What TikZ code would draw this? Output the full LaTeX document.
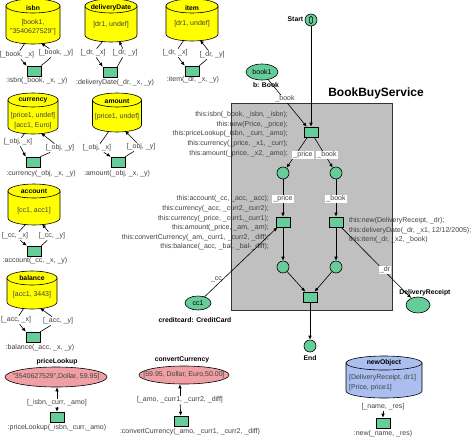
\documentclass[tikz,border=0pt]{standalone}
\usepackage{fontspec}
\setmainfont{Liberation Sans}
\usetikzlibrary{arrows.meta,shapes.geometric,calc}
\definecolor{petri}{RGB}{102,204,153}
\definecolor{dbyellow}{RGB}{255,255,0}
\definecolor{dbblue}{RGB}{170,190,240}
\definecolor{pinkobj}{RGB}{240,160,165}
\definecolor{boxgray}{RGB}{192,192,192}
\newcommand{\dbcyl}[6]{%
 \draw[fill=#6] ({#2-#5/2},{#3+7}) -- ({#2-#5/2},{#4-7}) arc[start angle=180,end angle=0,x radius={#5/2},y radius=7] -- ({#2+#5/2},{#3+7}) -- cycle;
 \draw[fill=#6] (#2,{#3+7}) ellipse[x radius={#5/2},y radius=7];
 \coordinate (#1-l) at ({#2-8},{#4-1});
 \coordinate (#1-r) at ({#2+8},{#4-1});
 \coordinate (#1-b) at (#2,{#4-1});
}
\begin{document}
\begin{tikzpicture}[x=1pt,y=-1pt, line width=0.6pt,
 txt/.style={font=\fontsize{7}{8}\selectfont, text=black!75, inner sep=0.8pt},
 ttl/.style={font=\bfseries\fontsize{6.8}{8}\selectfont, text=black, inner sep=0.5pt},
 trans/.style={draw, fill=petri, minimum width=14pt, minimum height=10pt, inner sep=0},
 place/.style={draw, circle, fill=petri, minimum size=12pt, inner sep=0},
 obj/.style={draw, ellipse, inner sep=0},
 flow/.style={-{Latex[length=4pt,width=3.5pt]}},
 wlbl/.style={txt, fill=white, inner sep=1pt},
 ann/.style={txt, font=\fontsize{7}{9.8}\selectfont}]
\useasboundingbox (0,0) rectangle (474,437);

% ---------- service box ----------
\node[draw=black!80, fill=boxgray, minimum width=161pt, minimum height=207pt, anchor=north west, inner sep=0] (svc) at (231,103) {};
\node[font=\bfseries\fontsize{12}{14}\selectfont] (svctitle) at (376,93) {BookBuyService};

% ---------- databases ----------
\dbcyl{isbn}{33}{-1}{44}{54}{dbyellow}
\node[ttl] (isbnt) at (33,8) {isbn};
\node[txt, align=center, font=\fontsize{7}{9}\selectfont] (isbnc) at (33,27) {[book1,\\"3540627529"]};
\node[trans] (isbnT) at (34,71) {};
\node[txt] (isbnx) at (17,55) {[\_book, \_x]};
\node[txt] (isbny) at (56,53) {[\_book, \_y]};
\node[txt] (isbnn) at (37,81) {:isbn(\_book, \_x, \_y)};
\draw (isbn-l) -- (isbnx); \draw[flow] (isbnx) -- (isbnT.north west);
\draw (isbnT.north east) -- (isbny); \draw[flow] (isbny) -- (isbn-r);

\dbcyl{dd}{111}{-1}{42}{52}{dbyellow}
\node[ttl] (ddt) at (111,8) {deliveryDate};
\node[txt] (ddc) at (111,25) {[dr1, undef]};
\node[trans] (ddT) at (110,72) {};
\node[txt] (ddx) at (93,53) {[\_dr, \_x]};
\node[txt] (ddy) at (125,53) {[\_dr, \_y]};
\node[txt] (ddn) at (115,83) {:deliveryDate(\_dr, \_x, \_y)};
\draw (dd-l) -- (ddx); \draw[flow] (ddx) -- (ddT.north west);
\draw (ddT.north east) -- (ddy); \draw[flow] (ddy) -- (dd-r);

\dbcyl{item}{192}{-1}{41}{52}{dbyellow}
\node[ttl] (itemt) at (192,8) {item};
\node[txt] (itemc) at (192,24) {[dr1, undef]};
\node[trans] (itemT) at (192,71) {};
\node[txt] (itemx) at (175,53) {[\_dr, \_x]};
\node[txt] (itemy) at (212,55) {[\_dr, \_y]};
\node[txt] (itemn) at (193,80) {:item(\_dr, \_x, \_y)};
\draw (item-l) -- (itemx); \draw[flow] (itemx) -- (itemT.north west);
\draw (itemT.north east) -- (itemy); \draw[flow] (itemy) -- (item-r);

\dbcyl{cur}{33}{93}{134}{50}{dbyellow}
\node[ttl] (curt) at (33,100) {currency};
\node[txt, align=center, font=\fontsize{7}{10}\selectfont] (curc) at (33,121) {[price1, undef]\\{}[acc1, Euro]};
\node[trans] (curT) at (33,162) {};
\node[txt] (curx) at (18,142) {[\_obj, \_x]};
\node[txt] (cury) at (60,148) {[\_obj, \_y]};
\node[txt] (curn) at (41,174) {:currency(\_obj, \_x, \_y)};
\draw (cur-l) -- (curx); \draw[flow] (curx) -- (curT.north west);
\draw (curT.north east) -- (cury); \draw[flow] (cury) -- (cur-r);

\dbcyl{amt}{117}{93}{132}{49}{dbyellow}
\node[ttl] (amtt) at (117,101) {amount};
\node[txt] (amtc) at (117,117) {[price1, undef]};
\node[trans] (amtT) at (118,162) {};
\node[txt] (amtx) at (97,148) {[\_obj, \_x]};
\node[txt] (amty) at (141,147) {[\_obj, \_y]};
\node[txt] (amtn) at (117,174) {:amount(\_obj, \_x, \_y)};
\draw (amt-l) -- (amtx); \draw[flow] (amtx) -- (amtT.north west);
\draw (amtT.north east) -- (amty); \draw[flow] (amty) -- (amt-r);

\dbcyl{acc}{34}{184}{225}{52}{dbyellow}
\node[ttl] (acct) at (34,191) {account};
\node[txt] (accc) at (34,211) {[cc1, acc1]};
\node[trans] (accT) at (34,251) {};
\node[txt] (accx) at (15,236) {[\_cc, \_x]};
\node[txt] (accy) at (52,236) {[\_cc, \_y]};
\node[txt] (accn) at (35,261) {:account(\_cc, \_x, \_y)};
\draw (acc-l) -- (accx); \draw[flow] (accx) -- (accT.north west);
\draw (accT.north east) -- (accy); \draw[flow] (accy) -- (acc-r);

\dbcyl{bal}{32}{271}{309}{50}{dbyellow}
\node[ttl] (balt) at (32,278) {balance};
\node[txt] (balc) at (32,295) {[acc1, 3443]};
\node[trans] (balT) at (33,337) {};
\node[txt] (balx) at (16,320) {[\_acc, \_x]};
\node[txt] (baly) at (58,321) {[\_acc, \_y]};
\node[txt] (baln) at (40,348) {:balance(\_acc, \_x, \_y)};
\draw (bal-l) -- (balx); \draw[flow] (balx) -- (balT.north west);
\draw (balT.north east) -- (baly); \draw[flow] (baly) -- (bal-r);

\dbcyl{nob}{384}{356}{398}{76}{dbblue}
\node[ttl] (nobt) at (384,363) {newObject};
\node[txt, align=left, anchor=west, font=\fontsize{7}{10}\selectfont] (nobc) at (348,383) {[DeliveryReceipt, dr1]\\{}[Price, price1]};
\node[trans] (nobT) at (383,423) {};
\node[txt] (nobl) at (383,407) {[\_name, \_res]};
\node[txt] (nobn) at (383,434) {:new(\_name, \_res)};
\draw[flow] (nobl) -- (nobT);

% ---------- services (pink) ----------
\node[ttl] (plt) at (57,362) {priceLookup};
\node[obj, fill=pinkobj, minimum width=102pt, minimum height=20pt] (PL) at (56,377) {};
\node[txt] (plc) at (56,377) {"3540627529",Dollar, 59.95]};
\node[txt] (pll) at (57,403) {[\_isbn,\_curr, \_amo]};
\node[trans] (plT) at (57,417) {};
\node[txt] (pln) at (57,428) {:priceLookup(\_isbn,\_curr,\_amo)};
\draw[flow] (pll) -- (pll |- PL.south);
\draw[flow] (pll) -- (plT);

\node[ttl] (cct) at (182,360) {convertCurrency};
\node[obj, fill=pinkobj, minimum width=90pt, minimum height=18pt] (CC) at (184,375) {};
\node[txt] (ccc) at (184,375) {[59.95, Dollar, Euro,50.00]};
\node[txt] (ccl) at (180,400) {[\_amo, \_curr1, \_curr2, \_diff]};
\node[trans] (ccT) at (181,421) {};
\node[txt] (ccn) at (190,432) {:convertCurrency(\_amo, \_curr1, \_curr2, \_diff)};
\draw[flow] (ccl) -- (ccl |- CC.south);
\draw[flow] (ccl) -- (ccT);

% ---------- main net ----------
\node[place, minimum size=12pt] (start) at (311,20) {};
\draw[rounded corners=1.4pt] ($(start.center)+(-1.6,-3.6)$) rectangle ($(start.center)+(1.6,3.6)$);
\node[ttl, anchor=east] (startl) at (304,19) {Start};
\node[trans] (T1) at (311,132) {};
\node[obj, fill=petri, minimum width=32pt, minimum height=16pt] (book1) at (262,72) {\fontsize{7}{8}\selectfont book1};
\node[ttl] (book1l) at (266,85) {b: Book};
\node[place] (P1) at (283,173) {};
\node[place] (P2) at (336,173) {};
\node[trans] (T2) at (283,222) {};
\node[trans] (T3) at (336,222) {};
\node[place] (P3) at (283,267) {};
\node[place] (P4) at (336,267) {};
\node[trans] (T4) at (310,297) {};
\node[place] (end) at (310,346) {};
\node[ttl] (endl) at (310,358) {End};
\node[obj, fill=petri, minimum width=26pt, minimum height=14pt] (cc1) at (198,303) {\fontsize{7}{8}\selectfont cc1};
\node[ttl] (cc1l) at (195,320) {creditcard: CreditCard};
\node[obj, fill=petri, minimum width=24pt, minimum height=16pt] (DR) at (418,305) {};
\node[ttl] (DRl) at (425,293) {DeliveryReceipt};

\node[ann, align=right, anchor=east] (a1) at (289,134) {this:isbn(\_book, \_isbn, \_isbn);\\this:new(Price, \_price);\\this:priceLookup(\_isbn, \_curr, \_amo);\\this:currency(\_price, \_x1, \_curr);\\this:amount(\_price, \_x2, \_amo);};
\node[ann, align=right, anchor=east, font=\fontsize{7}{9.6}\selectfont] (a2) at (270,223) {this:account(\_cc, \_acc, \_acc);\\this:currency(\_acc, \_curr2,\_curr2);\\this:currency(\_price, \_curr1,\_curr1);\\this:amount(\_price, \_am, \_am);\\this:convertCurrency(\_am,\_curr1, \_curr2, \_diff);\\this:balance(\_acc, \_bal, \_bal-\_diff);};
\node[ann, align=left, anchor=west, font=\fontsize{7}{9.5}\selectfont] (a3) at (348,230.5) {this:new(DeliveryReceipt, \_dr);\\this:deliveryDate(\_dr, \_x1, 12/12/2005);\\this:item(\_dr, \_x2, \_book)};

\draw[flow] (start) -- (T1);
\draw[flow] (book1) -- (T1);
\draw[flow] (T1) -- (P1);
\draw[flow] (T1) -- (P2);
\draw[flow] (P1) -- (T2);
\draw[flow] (P2) -- (T3);
\draw[flow] (T2) -- (P3);
\draw[flow] (T3) -- (P4);
\draw[flow] (P3) -- (T4);
\draw[flow] (P4) -- (T4);
\draw[flow] (T4) -- (end);
\draw[flow] (cc1) -- (T2);
\draw[flow] (T3) -- (DR);

\node[wlbl] (lb1) at (285,99) {\_book};
\node[wlbl] (lb2) at (303,155) {\_price};
\node[wlbl] (lb3) at (327,155) {\_book};
\node[wlbl] (lb4) at (283,199) {\_price};
\node[wlbl] (lb5) at (336,199) {\_book};
\node[txt, anchor=east] (lb6) at (223,279) {\_cc};
\node[wlbl] (lb7) at (385,270) {\_dr};
\end{tikzpicture}
\end{document}
